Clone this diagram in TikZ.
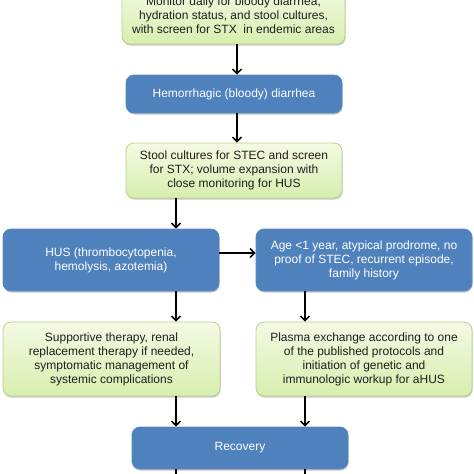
\documentclass[tikz,border=0pt]{standalone}
\usepackage{fontspec}
\setmainfont{Liberation Sans}
\usetikzlibrary{arrows.meta,shadows}
\definecolor{bluefill}{HTML}{4F81BD}
\definecolor{blueline}{HTML}{5A8AC4}
\definecolor{greentop}{HTML}{F3FAE4}
\definecolor{greenbot}{HTML}{D8EEAE}
\definecolor{greenline}{HTML}{B5D38A}
\definecolor{txt}{HTML}{1E1E1E}
\tikzset{
  box/.style={rounded corners=8pt, align=center, inner sep=2pt,
    font=\fontsize{12}{14}\selectfont,
    drop shadow={shadow xshift=0.6pt, shadow yshift=-1.5pt, opacity=0.22, fill=black}},
  bluebox/.style={box, fill=bluefill, draw=blueline, line width=0.8pt, text=white},
  greenbox/.style={box, top color=greentop, bottom color=greenbot, draw=greenline, line width=0.8pt, text=txt},
  arr/.style={line width=1.5pt, -{Straight Barb[length=4.5pt,width=9pt,line width=1.5pt]}},
  ln/.style={line width=1.5pt}
}
\begin{document}
\begin{tikzpicture}[x=1pt,y=-1pt]
\useasboundingbox (0,0) rectangle (474,474);
\node[greenbox, minimum width=223pt, minimum height=58pt] (top) at (233.5,15)
  {Monitor daily for bloody diarrhea,\\hydration status, and stool cultures,\\with screen for STX\ \ in endemic areas};
\node[bluebox, minimum width=216pt, minimum height=38pt] (hem) at (234,94)
  {Hemorrhagic (bloody) diarrhea};
\node[greenbox, minimum width=216pt, minimum height=55pt] (stool) at (234,170.5)
  {Stool cultures for STEC and screen\\for STX; volume expansion with\\close monitoring for HUS};
\node[bluebox, minimum width=216pt, minimum height=62pt] (hus) at (111,260)
  {HUS (thrombocytopenia,\\hemolysis, azotemia)};
\node[bluebox, minimum width=216pt, minimum height=62pt] (age) at (364,260)
  {Age <1 year, atypical prodrome, no\\proof of STEC, recurrent episode,\\family history};
\node[greenbox, minimum width=217pt, minimum height=74pt] (sup) at (111.5,359)
  {Supportive therapy, renal\\replacement therapy if needed,\\symptomatic management of\\systemic complications};
\node[greenbox, minimum width=216pt, minimum height=74pt] (pla) at (364,359)
  {Plasma exchange according to one\\of the published protocols and\\initiation of genetic and\\immunologic workup for aHUS};
\node[bluebox, minimum width=216pt, minimum height=42pt] (rec) at (240,448)
  {Recovery};
\coordinate (xa) at (237,0);
\coordinate (xl) at (176,0);
\coordinate (xr) at (305,0);
\coordinate (yh) at (0,253);
\coordinate (endl) at (176,480);
\coordinate (endr) at (305,480);
\draw[arr] (top.south -| xa) -- (hem.north -| xa);
\draw[arr] (hem.south -| xa) -- (stool.north -| xa);
\draw[arr] (stool.south -| xl) -- (hus.north -| xl);
\draw[arr] (hus.east |- yh) -- (age.west |- yh);
\draw[arr] (hus.south -| xl) -- (sup.north -| xl);
\draw[arr] (age.south -| xr) -- (pla.north -| xr);
\draw[arr] (sup.south -| xl) -- (rec.north -| xl);
\draw[arr] (pla.south -| xr) -- (rec.north -| xr);
\draw[ln] (rec.south -| xl) -- (endl);
\draw[ln] (rec.south -| xr) -- (endr);
\end{tikzpicture}
\end{document}
